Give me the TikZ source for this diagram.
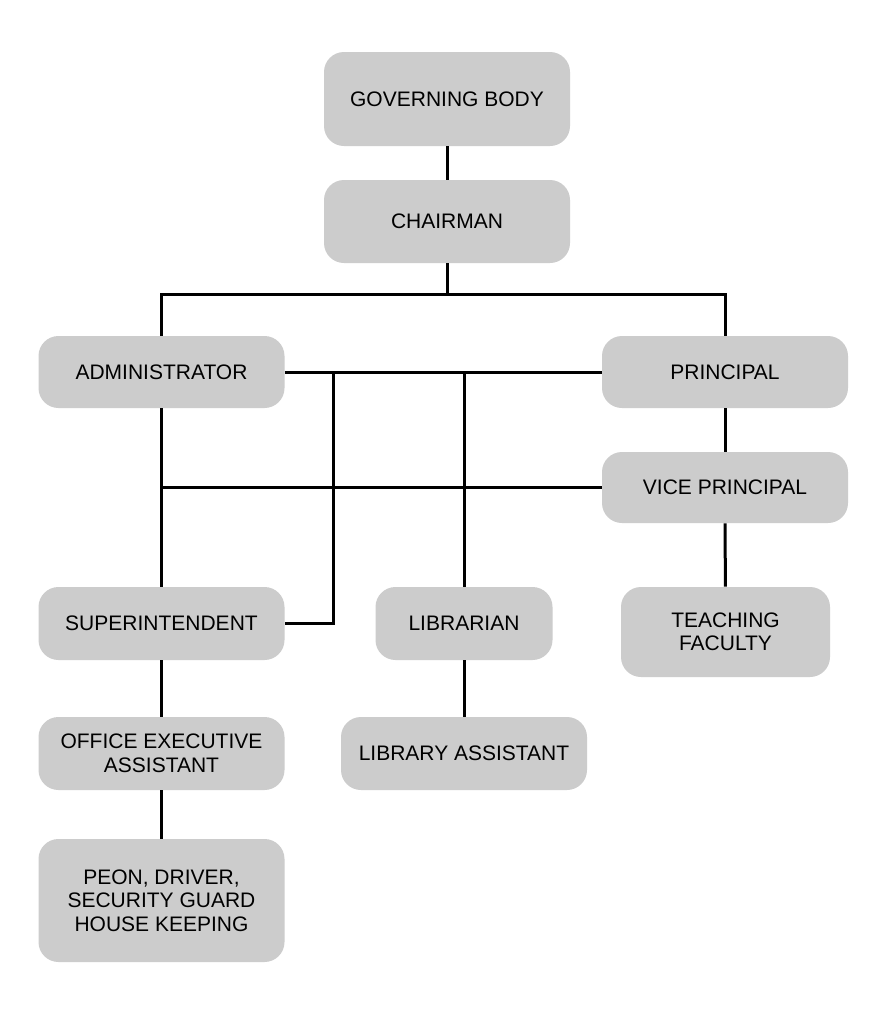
\documentclass[tikz,border=0pt]{standalone}
\usepackage{fontspec}
\setmainfont{Liberation Sans}
\usepackage{xcolor}
\definecolor{boxgray}{HTML}{CCCCCC}

\begin{document}
\begin{tikzpicture}[x=0.5pt,y=-0.5pt,
  post/.style={fill=boxgray,rounded corners=10pt,align=center,inner sep=0pt,font=\fontsize{10.5}{11.75}\selectfont,minimum width=123pt,minimum height=36pt},
  link/.style={line width=1.5pt}
]
  \useasboundingbox[fill=white] (0,0) rectangle (882,1024);
  \node[post,minimum height=47pt] (gov) at (447,99) {GOVERNING BODY};
  \node[post,minimum height=41.5pt] (chair) at (447,221.5) {CHAIRMAN};
  \node[post] (admin) at (161.5,372) {ADMINISTRATOR};
  \node[post] (princ) at (725,372) {PRINCIPAL};
  \node[post,minimum height=35.5pt] (vice) at (725,487.5) {VICE PRINCIPAL};
  \node[post,minimum height=36.5pt] (super) at (161.5,623.5) {SUPERINTENDENT};
  \node[post,minimum width=88.5pt,minimum height=36.5pt] (lib) at (464,623.5) {LIBRARIAN};
  \node[post,minimum width=104.5pt,minimum height=45pt] (teach) at (725.5,632) {TEACHING\\FACULTY};
  \node[post,minimum height=36.5pt] (office) at (161.5,753.5) {OFFICE EXECUTIVE\\ASSISTANT};
  \node[post,minimum height=36.5pt] (libasst) at (464,753.5) {LIBRARY ASSISTANT};
  \node[post,minimum height=61.5pt] (peon) at (161.5,900.5) {PEON, DRIVER,\\SECURITY GUARD\\HOUSE KEEPING};
  \coordinate (bus) at (447,294);
  \coordinate (ajoin) at (333,372);
  \coordinate (ljoin) at (464,372);
  \draw[link] (gov) -- (chair);
  \draw[link] (chair) -- (bus) -| (admin);
  \draw[link] (bus) -| (princ);
  \draw[link] (admin) -- (princ);
  \draw[link] (ajoin) |- (super);
  \draw[link] (ljoin) -- (lib);
  \draw[link] (admin) -- (super);
  \draw[link] (admin.south |- vice.west) -- (vice.west);
  \draw[link] (princ) -- (vice);
  \draw[link] (vice) -- (teach);
  \draw[link] (super) -- (office);
  \draw[link] (office) -- (peon);
  \draw[link] (lib) -- (libasst);
\end{tikzpicture}
\end{document}
